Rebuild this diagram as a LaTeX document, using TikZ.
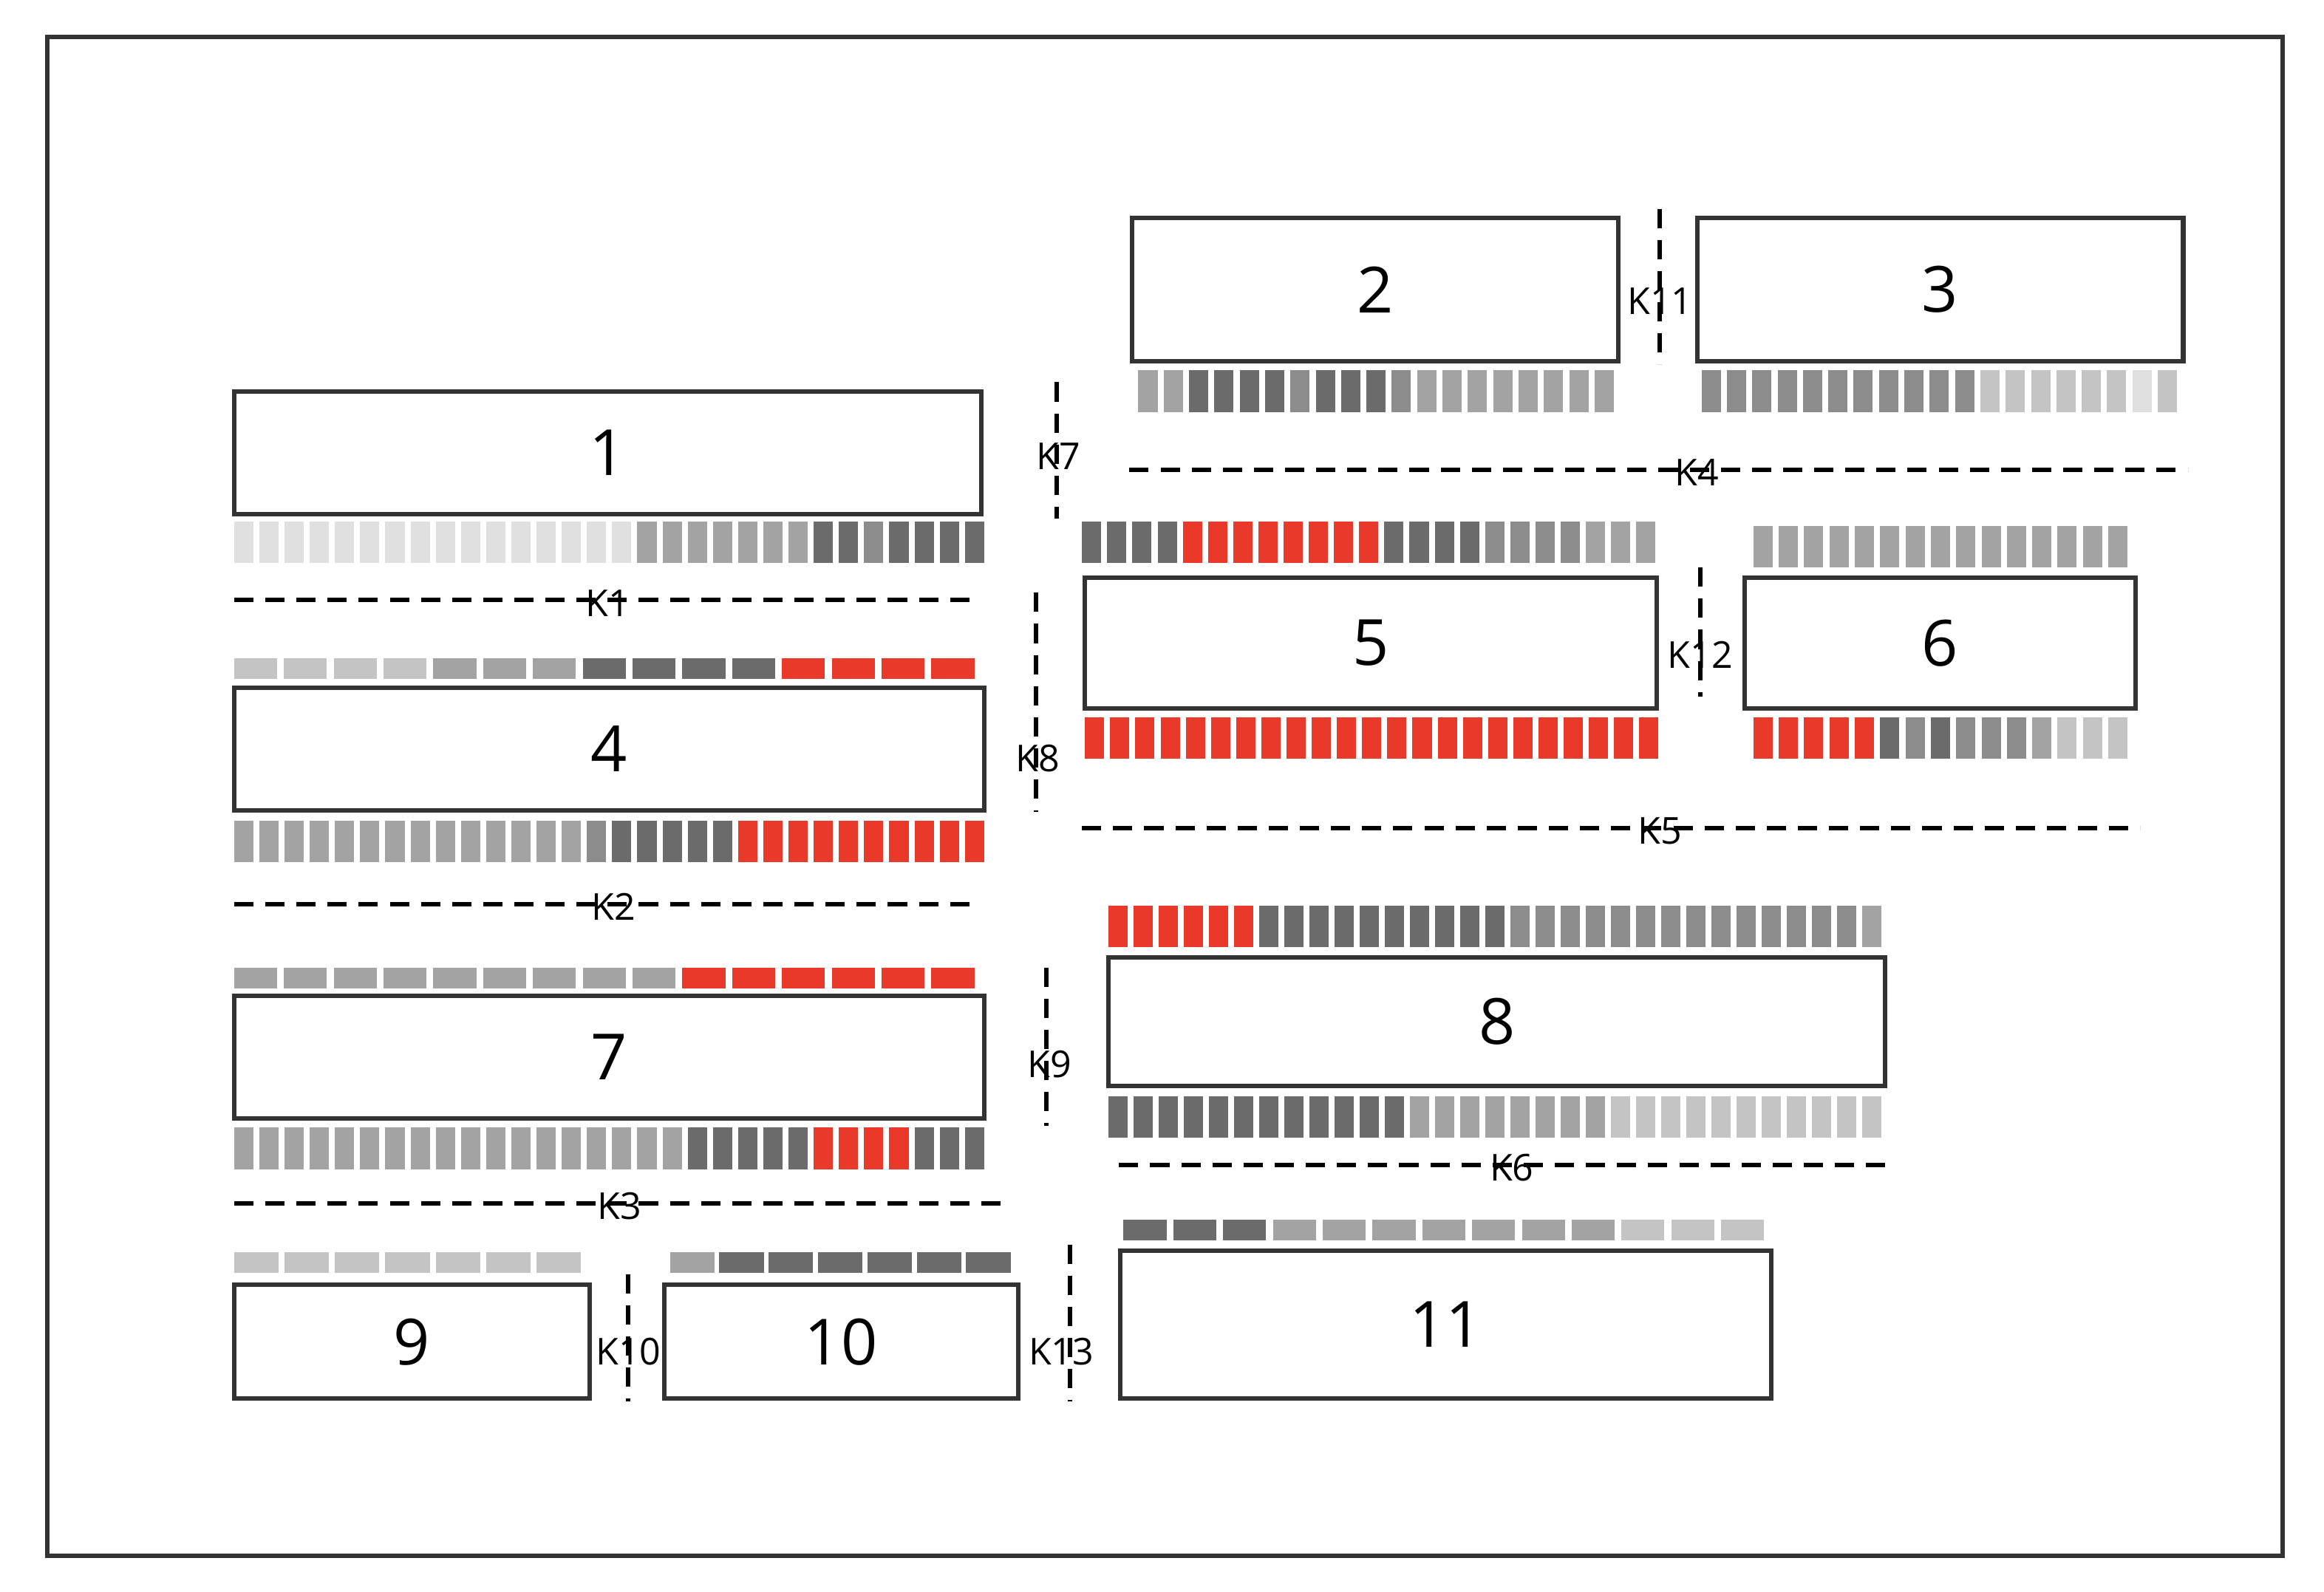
\documentclass[tikz,border=0pt]{standalone}
\usepackage{fontspec}
\setmainfont{Open Sans}
\definecolor{sld}{HTML}{6B6B6B}
\definecolor{slm}{HTML}{8C8C8C}
\definecolor{slg}{HTML}{A3A3A3}
\definecolor{sll}{HTML}{C4C4C4}
\definecolor{slv}{HTML}{E0E0E0}
\definecolor{slr}{HTML}{E8392A}
\newcommand\slotrow[6]{\foreach \c [count=\i from 0] in {#6} {\fill[fill=sl\c] ({#1+\i*#5},#2) rectangle ++(#3,#4);}}
\begin{document}
\begin{tikzpicture}[x=1pt,y=-1pt,
  bx/.style={draw=black!80,line width=3,inner sep=0},
  num/.style={font=\fontsize{43}{46}\selectfont},
  kl/.style={font=\fontsize{25}{28}\selectfont,inner sep=0},
  dl/.style={line width=3,dash pattern=on 13 off 8}]
\useasboundingbox (0,0) rectangle (1568,1074);
\fill[white] (0,0) rectangle (1568,1074);
\draw[line width=3,black!80] (32,25) rectangle (1540,1050);
\newcommand\bx[6]{\node[bx,minimum width={#4-#2},minimum height={#5-#3}] (#1) at ({(#2+#4)/2},{(#3+#5)/2}) {}; \node[num] (t#1) at (#1.center) {#6};}
\bx{b2}{764}{147}{1092}{244}{2}
\bx{b3}{1145}{147}{1473}{244}{3}
\bx{b1}{158}{264}{662}{347}{1}
\bx{b5}{732}{390}{1118}{478}{5}
\bx{b6}{1177}{390}{1441}{478}{6}
\bx{b4}{158}{464}{664}{547}{4}
\bx{b7}{158}{672}{664}{755}{7}
\bx{b8}{748}{646}{1272}{733}{8}
\bx{b9}{158}{867}{398}{944}{9}
\bx{b10}{448}{867}{687}{944}{10}
\bx{b11}{756}{844}{1195}{944}{11}
% tall slots
\slotrow{768}{250}{13}{28}{17.1}{g,g,d,d,d,d,m,d,d,d,m,g,g,g,g,g,g,g,g}
\slotrow{1148}{250}{13}{28}{17.1}{m,m,m,m,m,m,m,m,m,m,m,l,l,l,l,l,l,v,l}
\slotrow{158}{352}{13}{28}{17.0}{v,v,v,v,v,v,v,v,v,v,v,v,v,v,v,v,g,g,g,g,g,g,g,d,d,m,d,d,d,d}
\slotrow{730}{352}{13}{28}{17.0}{d,d,d,d,r,r,r,r,r,r,r,r,d,d,d,d,m,m,m,m,g,g,g}
\slotrow{1183}{355}{13}{28}{17.1}{g,g,g,g,g,g,g,g,g,g,g,g,g,g,g}
\slotrow{732}{484}{13}{28}{17.0}{r,r,r,r,r,r,r,r,r,r,r,r,r,r,r,r,r,r,r,r,r,r,r}
\slotrow{1183}{484}{13}{28}{17.1}{r,r,r,r,r,d,m,d,m,m,m,g,l,l,l}
\slotrow{158}{554}{13}{28}{17.0}{g,g,g,g,g,g,g,g,g,g,g,g,g,g,m,d,d,d,d,d,r,r,r,r,r,r,r,r,r,r}
\slotrow{748}{611}{13}{28}{16.95}{r,r,r,r,r,r,d,d,d,d,d,d,d,d,d,d,m,m,m,m,m,m,m,m,m,m,m,m,m,m,g}
\slotrow{158}{761}{13}{28}{17.0}{g,g,g,g,g,g,g,g,g,g,g,g,g,g,g,g,g,g,d,d,d,d,d,r,r,r,r,d,d,d}
\slotrow{748}{740}{13}{28}{16.95}{d,d,d,d,d,d,d,d,d,d,d,d,g,g,g,g,g,g,g,g,l,l,l,l,l,l,l,l,l,l,l}
% flat slots
\slotrow{158}{444}{29}{14}{33.6}{l,l,l,l,g,g,g,d,d,d,d,r,r,r,r}
\slotrow{158}{653}{29}{14}{33.6}{g,g,g,g,g,g,g,g,g,r,r,r,r,r,r}
\slotrow{158}{845}{30}{14}{34}{l,l,l,l,l,l,l}
\slotrow{452}{845}{30}{14}{33.3}{g,d,d,d,d,d,d}
\slotrow{758}{823}{29}{14}{33.6}{d,d,d,g,g,g,g,g,g,g,l,l,l}
% dashed lines with labels
\newcommand\hk[5]{\coordinate (#1a) at (#2,#4); \coordinate (#1b) at (#3,#4); \draw[dl] (#1a) -- (#1b); \node[kl] (#1) at (#5,{#4+2}) {#1};}
\newcommand\vk[6]{\coordinate (#1a) at (#2,#3); \coordinate (#1b) at (#2,#4); \draw[dl] (#1a) -- (#1b); \node[kl] (#1) at (#5,#6) {#1};}
\hk{K1}{158}{656}{405}{410}
\hk{K2}{158}{656}{610}{414}
\hk{K3}{158}{676}{812}{418}
\hk{K4}{762}{1476}{317}{1145}
\hk{K5}{730}{1444}{559}{1120}
\hk{K6}{755}{1275}{786}{1020}
\vk{K7}{713}{258}{350}{714}{308}
\vk{K8}{699}{400}{548}{700}{512}
\vk{K9}{706}{653}{760}{708}{718}
\vk{K10}{424}{860}{946}{424}{912}
\vk{K11}{1120}{141}{246}{1120}{203}
\vk{K12}{1147}{383}{470}{1147}{442}
\vk{K13}{722}{840}{946}{716}{912}
\end{tikzpicture}
\end{document}
